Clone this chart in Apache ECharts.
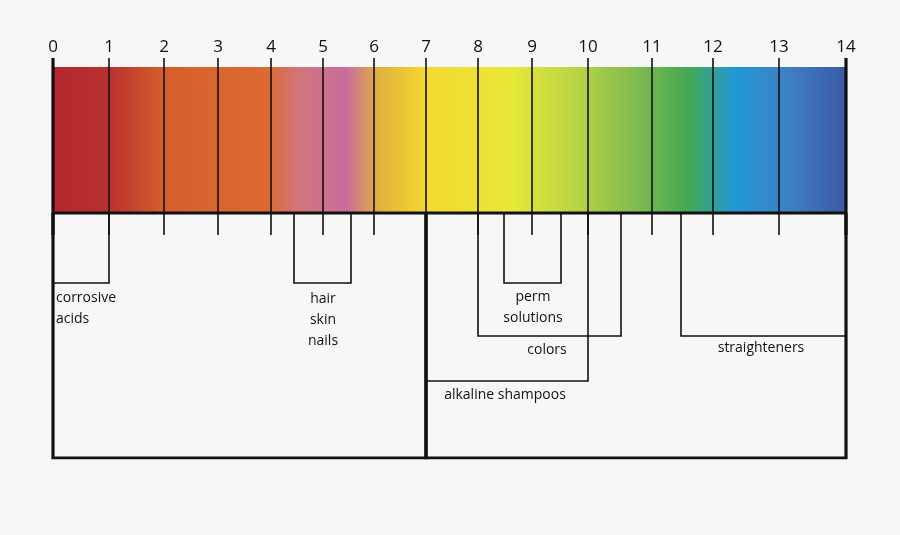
<!DOCTYPE html>
<html><head><meta charset="utf-8">
<script src="https://cdn.jsdelivr.net/npm/echarts@6/dist/echarts.min.js"></script>
<style>html,body{margin:0;background:#f7f7f7}#c{width:900px;height:535px}</style>
</head><body><div id="c"></div>
<script>
// scale positions (offset from left edge of the bar) for pH 0..14
var phLabels = ['0','1','2','3','4','5','6','7','8','9','10','11','12','13','14'];
var phPos = [0, 56, 111, 165, 218, 270, 321, 373, 425, 479, 535, 599, 660, 726, 793];
// bar colour stops [fraction, colour]
var barStops = [[0,'#b3282e'],[0.07,'#b8302e'],[0.14,'#d55f2c'],[0.27,'#dc6a32'],[0.31,'#d0757c'],[0.37,'#c86c9c'],[0.41,'#e0b040'],[0.47,'#f4d82e'],[0.58,'#e8e83a'],[0.66,'#b8d444'],[0.73,'#84bd4e'],[0.8,'#46a852'],[0.86,'#2198d6'],[0.93,'#3f7ec2'],[1,'#3b58a6']];
// brackets: [points], label, label centre
var brackets = [
  {pts:[[0,146],[0,216],[56,216],[56,146]], text:'corrosive\nacids', at:[3,242], align:'left'},
  {pts:[[241,146],[241,216],[298,216],[298,146]], text:'hair\nskin\nnails', at:[270,253]},
  {pts:[[451,146],[451,216],[508,216],[508,146]], text:'perm\nsolutions', at:[480,241]},
  {pts:[[425,146],[425,269],[568,269],[568,146]], text:'colors', at:[494,283]},
  {pts:[[373,314],[535,314],[535,146]], text:'alkaline shampoos', at:[452,328]},
  {pts:[[628,146],[628,269],[793,269]], text:'straighteners', at:[708,281]}
];
var boxes = [{pts:[[0,146],[0,391],[373,391],[373,146]], text:'ACID', at:[181,407]},
             {pts:[[373,146],[373,391],[793,391],[793,146]], text:'ALKALINE', at:[585,407]}];

var chart = echarts.init(document.getElementById('c'));
var font = {fontFamily:'Open Sans', fontSize:14, color:'#111', lineHeight:21, textBorderWidth:0};
var labelData = [];
phLabels.forEach(function(l,i){ labelData.push({value:[phPos[i],-20], label:{formatter:l, fontSize:17}}); });
brackets.concat(boxes).forEach(function(b){ labelData.push({value:b.at, label:{formatter:b.text, align:b.align||'center'}}); });

var thin = [], thick = [];
brackets.forEach(function(b){ thin.push({coords:b.pts}); });
boxes.forEach(function(b){ thick.push({coords:b.pts}); });
phPos.forEach(function(p,i){
  var d = {coords:[[p,-9],[p,168]]};
  if (i===0||i===14) thick.push(d); else thin.push(d);
});
thick.push({coords:[[0,146],[793,146]]});

chart.setOption({
  backgroundColor:'#f7f7f7',
  animation:false,
  grid:{left:53,right:54,top:37,bottom:77},
  xAxis:{type:'value',min:0,max:793,show:false},
  yAxis:{type:'value',min:-30,max:391,inverse:true,show:false},
  series:[
    {type:'custom', renderItem:function(params, api){
      var a = api.coord([0,0]), b = api.coord([793,146]);
      return {type:'rect', shape:{x:a[0],y:a[1],width:b[0]-a[0],height:b[1]-a[1]},
        style:{fill:new echarts.graphic.LinearGradient(0,0,1,0,barStops.map(function(s){return {offset:s[0],color:s[1]};}))}};
    }, data:[[0,0]], z:1},
    {type:'lines', coordinateSystem:'cartesian2d', polyline:true, z:3,
     lineStyle:{color:'#111',opacity:1,width:1.6}, data:thin},
    {type:'lines', coordinateSystem:'cartesian2d', polyline:true, z:3,
     lineStyle:{color:'#111',opacity:1,width:3.2}, data:thick},
    {type:'scatter', symbolSize:0, z:4, itemStyle:{opacity:1},
     label:Object.assign({show:true, position:'inside', verticalAlign:'middle'}, font), data:labelData}
  ]
});
</script></body></html>
